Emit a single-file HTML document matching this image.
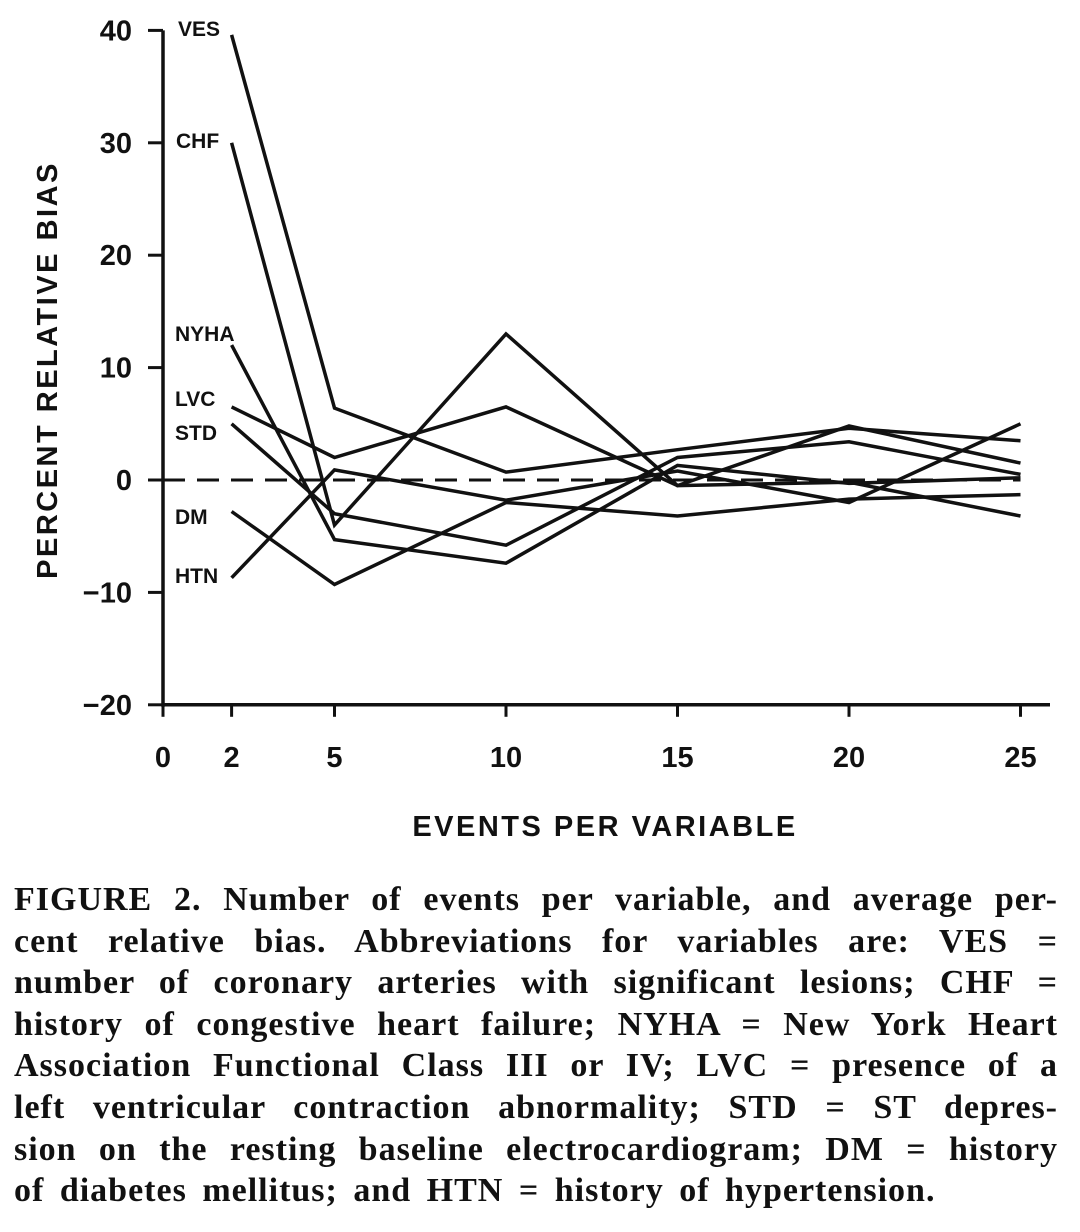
<!DOCTYPE html>
<html><head><meta charset="utf-8">
<style>
body{margin:0;background:#fff;width:1080px;height:1232px;overflow:hidden}
svg text{font-family:"Liberation Sans",sans-serif;font-weight:bold;fill:#111}
.cap{position:absolute;left:14px;width:1044px;top:879px;font-family:"Liberation Serif",serif;font-weight:bold;font-size:34px;letter-spacing:1px;line-height:41.6px;color:#111}
.cap div{text-align:justify;text-align-last:justify;white-space:nowrap}
.cap div.last{text-align:left;text-align-last:left;word-spacing:6px}
</style></head><body>
<svg id="chart" width="1080" height="870" style="position:absolute;left:0;top:0"></svg>
<div class="cap">
<div>FIGURE 2. Number of events per variable, and average per-</div>
<div>cent relative bias. Abbreviations for variables are: VES =</div>
<div>number of coronary arteries with significant lesions; CHF =</div>
<div>history of congestive heart failure; NYHA = New York Heart</div>
<div>Association Functional Class III or IV; LVC = presence of a</div>
<div>left ventricular contraction abnormality; STD = ST depres-</div>
<div>sion on the resting baseline electrocardiogram; DM = history</div>
<div class="last">of diabetes mellitus; and HTN = history of hypertension.</div>
</div>
<script>
const xValues=[2,5,10,15,20,25];
const seriesNames=["VES","CHF","NYHA","LVC","STD","DM","HTN"];
const VES=[39.6,6.4,0.7,2.7,4.6,3.5];
const CHF=[30,-4,13,-0.5,-0.2,-3.2];
const NYHA=[12,-5.3,-7.4,1.3,-0.3,0.2];
const LVC=[6.5,2.0,6.5,-0.5,4.8,1.5];
const STD=[5,-3,-5.8,2.0,3.4,0.5];
const DM=[-2.8,-9.3,-2.0,-3.2,-1.7,-1.3];
const HTN=[-8.7,0.9,-1.8,0.8,-2.0,5.0];
const yTicks=[40,30,20,10,0,-10,-20];
const xTicks=[0,2,5,10,15,20,25];

const NS="http://www.w3.org/2000/svg";
const svg=document.getElementById("chart");
const X=v=>163+v*34.3;
const Y=v=>480-v*11.24;
function mk(t,a,txt){const e=document.createElementNS(NS,t);for(const k in a)e.setAttribute(k,a[k]);if(txt!=null)e.textContent=txt;svg.appendChild(e);return e;}

let e=mk("line",{x1:163,y1:Y(40),x2:163,y2:Y(-20)+2,stroke:"#111","stroke-width":3.5});

e=mk("line",{x1:162,y1:Y(-20),x2:1050,y2:Y(-20),stroke:"#111","stroke-width":3.5});

yTicks.forEach(v=>{
 let t=mk("line",{x1:148,y1:Y(v),x2:163,y2:Y(v),stroke:"#111","stroke-width":3});
 
 let l=mk("text",{x:132,y:Y(v)+10,"font-size":29,"text-anchor":"end"},v<0?"\u2212"+(-v):String(v));
 
});
xTicks.forEach(v=>{
 let t=mk("line",{x1:X(v),y1:Y(-20),x2:X(v),y2:Y(-20)+12,stroke:"#111","stroke-width":3});
 
 let l=mk("text",{x:X(v),y:767,"font-size":29,"text-anchor":"middle"},String(v));
 
});
e=mk("line",{x1:163,y1:Y(0),x2:X(25),y2:Y(0),stroke:"#111","stroke-width":3,"stroke-dasharray":"22,12"});

e=mk("text",{x:605,y:836,"font-size":29,"text-anchor":"middle","letter-spacing":"2.5"},"EVENTS PER VARIABLE");

e=mk("text",{x:0,y:0,"font-size":29,"text-anchor":"middle","letter-spacing":"2.5",transform:"translate(57,370) rotate(-90)"},"PERCENT RELATIVE BIAS");


const data=[VES,CHF,NYHA,LVC,STD,DM,HTN];
const labelPos=[[178,36],[176,148],[175,341],[175,406],[175,440],[175,524],[175,583]];
data.forEach((s,i)=>{
 const pts=s.map((v,j)=>X(xValues[j]).toFixed(1)+","+Y(v).toFixed(1)).join(" ");
 let p=mk("polyline",{points:pts,fill:"none",stroke:"#111","stroke-width":3.5,"stroke-linejoin":"miter"});
 
 
 let l=mk("text",{x:labelPos[i][0],y:labelPos[i][1],"font-size":21},seriesNames[i]);
 
 
});
</script>
</body></html>
